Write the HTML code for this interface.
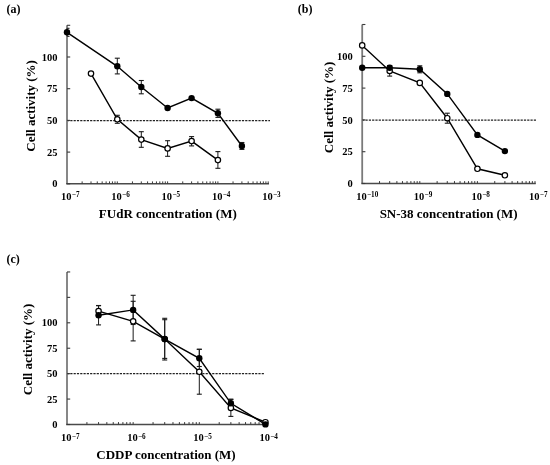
<!DOCTYPE html>
<html><head><meta charset="utf-8"><style>
html,body{margin:0;padding:0;background:#fff;}
svg{display:block;}
</style></head><body>
<svg width="550" height="465" viewBox="0 0 550 465">
<rect width="550" height="465" fill="#fff"/>
<text x="6.5" y="12.8" style="font-family:'Liberation Serif',serif;font-weight:bold;font-size:12px">(a)</text>
<line x1="67" y1="120.60" x2="270" y2="120.60" stroke="#222" stroke-width="1.3" stroke-dasharray="2.2 1.1"/>
<line x1="67" y1="25.30" x2="67" y2="183.80" stroke="#7a7a7a" stroke-width="1.8"/>
<line x1="66.1" y1="183.80" x2="269.00" y2="183.80" stroke="#4a4a4a" stroke-width="1.6"/>
<line x1="67" y1="183.80" x2="70.2" y2="183.80" stroke="#3a3a3a" stroke-width="1.1"/>
<line x1="67" y1="152.10" x2="70.2" y2="152.10" stroke="#3a3a3a" stroke-width="1.1"/>
<line x1="67" y1="120.40" x2="70.2" y2="120.40" stroke="#3a3a3a" stroke-width="1.1"/>
<line x1="67" y1="88.70" x2="70.2" y2="88.70" stroke="#3a3a3a" stroke-width="1.1"/>
<line x1="67" y1="57.00" x2="70.2" y2="57.00" stroke="#3a3a3a" stroke-width="1.1"/>
<line x1="67" y1="25.30" x2="70.2" y2="25.30" stroke="#3a3a3a" stroke-width="1.1"/>
<text x="57.5" y="187.40" text-anchor="end" style="font-family:'Liberation Serif',serif;font-weight:bold;font-size:10.5px">0</text>
<text x="57.5" y="155.70" text-anchor="end" style="font-family:'Liberation Serif',serif;font-weight:bold;font-size:10.5px">25</text>
<text x="57.5" y="124.00" text-anchor="end" style="font-family:'Liberation Serif',serif;font-weight:bold;font-size:10.5px">50</text>
<text x="57.5" y="92.30" text-anchor="end" style="font-family:'Liberation Serif',serif;font-weight:bold;font-size:10.5px">75</text>
<text x="57.5" y="60.60" text-anchor="end" style="font-family:'Liberation Serif',serif;font-weight:bold;font-size:10.5px">100</text>
<line x1="82.14" y1="183.80" x2="82.14" y2="181.40" stroke="#3a3a3a" stroke-width="1"/>
<line x1="91.00" y1="183.80" x2="91.00" y2="181.40" stroke="#3a3a3a" stroke-width="1"/>
<line x1="97.28" y1="183.80" x2="97.28" y2="181.40" stroke="#3a3a3a" stroke-width="1"/>
<line x1="102.16" y1="183.80" x2="102.16" y2="181.40" stroke="#3a3a3a" stroke-width="1"/>
<line x1="106.14" y1="183.80" x2="106.14" y2="181.40" stroke="#3a3a3a" stroke-width="1"/>
<line x1="109.51" y1="183.80" x2="109.51" y2="181.40" stroke="#3a3a3a" stroke-width="1"/>
<line x1="112.43" y1="183.80" x2="112.43" y2="181.40" stroke="#3a3a3a" stroke-width="1"/>
<line x1="115.00" y1="183.80" x2="115.00" y2="181.40" stroke="#3a3a3a" stroke-width="1"/>
<line x1="117.30" y1="183.80" x2="117.30" y2="181.40" stroke="#3a3a3a" stroke-width="1"/>
<line x1="132.44" y1="183.80" x2="132.44" y2="181.40" stroke="#3a3a3a" stroke-width="1"/>
<line x1="141.30" y1="183.80" x2="141.30" y2="181.40" stroke="#3a3a3a" stroke-width="1"/>
<line x1="147.58" y1="183.80" x2="147.58" y2="181.40" stroke="#3a3a3a" stroke-width="1"/>
<line x1="152.46" y1="183.80" x2="152.46" y2="181.40" stroke="#3a3a3a" stroke-width="1"/>
<line x1="156.44" y1="183.80" x2="156.44" y2="181.40" stroke="#3a3a3a" stroke-width="1"/>
<line x1="159.81" y1="183.80" x2="159.81" y2="181.40" stroke="#3a3a3a" stroke-width="1"/>
<line x1="162.73" y1="183.80" x2="162.73" y2="181.40" stroke="#3a3a3a" stroke-width="1"/>
<line x1="165.30" y1="183.80" x2="165.30" y2="181.40" stroke="#3a3a3a" stroke-width="1"/>
<line x1="167.60" y1="183.80" x2="167.60" y2="181.40" stroke="#3a3a3a" stroke-width="1"/>
<line x1="182.74" y1="183.80" x2="182.74" y2="181.40" stroke="#3a3a3a" stroke-width="1"/>
<line x1="191.60" y1="183.80" x2="191.60" y2="181.40" stroke="#3a3a3a" stroke-width="1"/>
<line x1="197.88" y1="183.80" x2="197.88" y2="181.40" stroke="#3a3a3a" stroke-width="1"/>
<line x1="202.76" y1="183.80" x2="202.76" y2="181.40" stroke="#3a3a3a" stroke-width="1"/>
<line x1="206.74" y1="183.80" x2="206.74" y2="181.40" stroke="#3a3a3a" stroke-width="1"/>
<line x1="210.11" y1="183.80" x2="210.11" y2="181.40" stroke="#3a3a3a" stroke-width="1"/>
<line x1="213.03" y1="183.80" x2="213.03" y2="181.40" stroke="#3a3a3a" stroke-width="1"/>
<line x1="215.60" y1="183.80" x2="215.60" y2="181.40" stroke="#3a3a3a" stroke-width="1"/>
<line x1="217.90" y1="183.80" x2="217.90" y2="181.40" stroke="#3a3a3a" stroke-width="1"/>
<line x1="233.04" y1="183.80" x2="233.04" y2="181.40" stroke="#3a3a3a" stroke-width="1"/>
<line x1="241.90" y1="183.80" x2="241.90" y2="181.40" stroke="#3a3a3a" stroke-width="1"/>
<line x1="248.18" y1="183.80" x2="248.18" y2="181.40" stroke="#3a3a3a" stroke-width="1"/>
<line x1="253.06" y1="183.80" x2="253.06" y2="181.40" stroke="#3a3a3a" stroke-width="1"/>
<line x1="257.04" y1="183.80" x2="257.04" y2="181.40" stroke="#3a3a3a" stroke-width="1"/>
<line x1="260.41" y1="183.80" x2="260.41" y2="181.40" stroke="#3a3a3a" stroke-width="1"/>
<line x1="263.33" y1="183.80" x2="263.33" y2="181.40" stroke="#3a3a3a" stroke-width="1"/>
<line x1="265.90" y1="183.80" x2="265.90" y2="181.40" stroke="#3a3a3a" stroke-width="1"/>
<line x1="268.20" y1="183.80" x2="268.20" y2="181.40" stroke="#3a3a3a" stroke-width="1"/>
<text x="61.00" y="199.6" style="font-family:'Liberation Serif',serif;font-weight:bold;font-size:10.5px">10<tspan dx="0.3" dy="-2.8" style="font-size:7.2px">−7</tspan></text>
<text x="111.30" y="199.6" style="font-family:'Liberation Serif',serif;font-weight:bold;font-size:10.5px">10<tspan dx="0.3" dy="-2.8" style="font-size:7.2px">−6</tspan></text>
<text x="161.60" y="199.6" style="font-family:'Liberation Serif',serif;font-weight:bold;font-size:10.5px">10<tspan dx="0.3" dy="-2.8" style="font-size:7.2px">−5</tspan></text>
<text x="211.90" y="199.6" style="font-family:'Liberation Serif',serif;font-weight:bold;font-size:10.5px">10<tspan dx="0.3" dy="-2.8" style="font-size:7.2px">−4</tspan></text>
<text x="262.20" y="199.6" style="font-family:'Liberation Serif',serif;font-weight:bold;font-size:10.5px">10<tspan dx="0.3" dy="-2.8" style="font-size:7.2px">−3</tspan></text>
<text x="167.8" y="217.8" text-anchor="middle" style="font-family:'Liberation Serif',serif;font-weight:bold;font-size:13px">FUdR concentration (M)</text>
<text transform="translate(35.2,105.9) rotate(-90)" text-anchor="middle" style="font-family:'Liberation Serif',serif;font-weight:bold;font-size:13px">Cell activity (%)</text>
<line x1="117.30" y1="115.30" x2="117.30" y2="123.30" stroke="#1a1a1a" stroke-width="1"/>
<line x1="114.80" y1="115.30" x2="119.80" y2="115.30" stroke="#1a1a1a" stroke-width="1.1"/>
<line x1="114.80" y1="123.30" x2="119.80" y2="123.30" stroke="#1a1a1a" stroke-width="1.1"/>
<line x1="141.30" y1="131.70" x2="141.30" y2="147.30" stroke="#1a1a1a" stroke-width="1"/>
<line x1="138.80" y1="131.70" x2="143.80" y2="131.70" stroke="#1a1a1a" stroke-width="1.1"/>
<line x1="138.80" y1="147.30" x2="143.80" y2="147.30" stroke="#1a1a1a" stroke-width="1.1"/>
<line x1="167.60" y1="140.70" x2="167.60" y2="156.30" stroke="#1a1a1a" stroke-width="1"/>
<line x1="165.10" y1="140.70" x2="170.10" y2="140.70" stroke="#1a1a1a" stroke-width="1.1"/>
<line x1="165.10" y1="156.30" x2="170.10" y2="156.30" stroke="#1a1a1a" stroke-width="1.1"/>
<line x1="191.60" y1="136.60" x2="191.60" y2="145.90" stroke="#1a1a1a" stroke-width="1"/>
<line x1="189.10" y1="136.60" x2="194.10" y2="136.60" stroke="#1a1a1a" stroke-width="1.1"/>
<line x1="189.10" y1="145.90" x2="194.10" y2="145.90" stroke="#1a1a1a" stroke-width="1.1"/>
<line x1="217.90" y1="151.60" x2="217.90" y2="168.30" stroke="#1a1a1a" stroke-width="1"/>
<line x1="215.40" y1="151.60" x2="220.40" y2="151.60" stroke="#1a1a1a" stroke-width="1.1"/>
<line x1="215.40" y1="168.30" x2="220.40" y2="168.30" stroke="#1a1a1a" stroke-width="1.1"/>
<line x1="67.00" y1="28.30" x2="67.00" y2="36.30" stroke="#1a1a1a" stroke-width="1"/>
<line x1="67.20" y1="28.30" x2="69.50" y2="28.30" stroke="#1a1a1a" stroke-width="1.1"/>
<line x1="67.20" y1="36.30" x2="69.50" y2="36.30" stroke="#1a1a1a" stroke-width="1.1"/>
<line x1="117.30" y1="58.20" x2="117.30" y2="73.90" stroke="#1a1a1a" stroke-width="1"/>
<line x1="114.80" y1="58.20" x2="119.80" y2="58.20" stroke="#1a1a1a" stroke-width="1.1"/>
<line x1="114.80" y1="73.90" x2="119.80" y2="73.90" stroke="#1a1a1a" stroke-width="1.1"/>
<line x1="141.30" y1="80.50" x2="141.30" y2="93.80" stroke="#1a1a1a" stroke-width="1"/>
<line x1="138.80" y1="80.50" x2="143.80" y2="80.50" stroke="#1a1a1a" stroke-width="1.1"/>
<line x1="138.80" y1="93.80" x2="143.80" y2="93.80" stroke="#1a1a1a" stroke-width="1.1"/>
<line x1="217.90" y1="109.20" x2="217.90" y2="117.40" stroke="#1a1a1a" stroke-width="1"/>
<line x1="215.40" y1="109.20" x2="220.40" y2="109.20" stroke="#1a1a1a" stroke-width="1.1"/>
<line x1="215.40" y1="117.40" x2="220.40" y2="117.40" stroke="#1a1a1a" stroke-width="1.1"/>
<line x1="241.90" y1="142.50" x2="241.90" y2="149.40" stroke="#1a1a1a" stroke-width="1"/>
<line x1="239.40" y1="142.50" x2="244.40" y2="142.50" stroke="#1a1a1a" stroke-width="1.1"/>
<line x1="239.40" y1="149.40" x2="244.40" y2="149.40" stroke="#1a1a1a" stroke-width="1.1"/>
<polyline points="91.00,73.60 117.30,119.30 141.30,139.60 167.60,148.40 191.60,141.10 217.90,160.10" fill="none" stroke="#000" stroke-width="1.4"/>
<polyline points="67.00,32.30 117.30,66.30 141.30,87.00 167.60,108.00 191.60,98.10 217.90,113.30 241.90,146.00" fill="none" stroke="#000" stroke-width="1.4"/>
<circle cx="91.00" cy="73.60" r="2.7" fill="#fff" stroke="#000" stroke-width="1.2"/>
<circle cx="117.30" cy="119.30" r="2.7" fill="#fff" stroke="#000" stroke-width="1.2"/>
<circle cx="141.30" cy="139.60" r="2.7" fill="#fff" stroke="#000" stroke-width="1.2"/>
<circle cx="167.60" cy="148.40" r="2.7" fill="#fff" stroke="#000" stroke-width="1.2"/>
<circle cx="191.60" cy="141.10" r="2.7" fill="#fff" stroke="#000" stroke-width="1.2"/>
<circle cx="217.90" cy="160.10" r="2.7" fill="#fff" stroke="#000" stroke-width="1.2"/>
<circle cx="67.00" cy="32.30" r="3.2" fill="#000"/>
<circle cx="117.30" cy="66.30" r="3.2" fill="#000"/>
<circle cx="141.30" cy="87.00" r="3.2" fill="#000"/>
<circle cx="167.60" cy="108.00" r="3.2" fill="#000"/>
<circle cx="191.60" cy="98.10" r="3.2" fill="#000"/>
<circle cx="217.90" cy="113.30" r="3.2" fill="#000"/>
<circle cx="241.90" cy="146.00" r="3.2" fill="#000"/>
<text x="297.8" y="12.6" style="font-family:'Liberation Serif',serif;font-weight:bold;font-size:12px">(b)</text>
<line x1="362.2" y1="120.10" x2="537" y2="120.10" stroke="#222" stroke-width="1.3" stroke-dasharray="2.2 1.1"/>
<line x1="362.2" y1="24.50" x2="362.2" y2="183.50" stroke="#7a7a7a" stroke-width="1.8"/>
<line x1="361.3" y1="183.50" x2="535.80" y2="183.50" stroke="#4a4a4a" stroke-width="1.6"/>
<line x1="362.2" y1="183.50" x2="365.4" y2="183.50" stroke="#3a3a3a" stroke-width="1.1"/>
<line x1="362.2" y1="151.70" x2="365.4" y2="151.70" stroke="#3a3a3a" stroke-width="1.1"/>
<line x1="362.2" y1="119.90" x2="365.4" y2="119.90" stroke="#3a3a3a" stroke-width="1.1"/>
<line x1="362.2" y1="88.10" x2="365.4" y2="88.10" stroke="#3a3a3a" stroke-width="1.1"/>
<line x1="362.2" y1="56.30" x2="365.4" y2="56.30" stroke="#3a3a3a" stroke-width="1.1"/>
<line x1="362.2" y1="24.50" x2="365.4" y2="24.50" stroke="#3a3a3a" stroke-width="1.1"/>
<text x="352.7" y="187.10" text-anchor="end" style="font-family:'Liberation Serif',serif;font-weight:bold;font-size:10.5px">0</text>
<text x="352.7" y="155.30" text-anchor="end" style="font-family:'Liberation Serif',serif;font-weight:bold;font-size:10.5px">25</text>
<text x="352.7" y="123.50" text-anchor="end" style="font-family:'Liberation Serif',serif;font-weight:bold;font-size:10.5px">50</text>
<text x="352.7" y="91.70" text-anchor="end" style="font-family:'Liberation Serif',serif;font-weight:bold;font-size:10.5px">75</text>
<text x="352.7" y="59.90" text-anchor="end" style="font-family:'Liberation Serif',serif;font-weight:bold;font-size:10.5px">100</text>
<line x1="379.54" y1="183.50" x2="379.54" y2="181.10" stroke="#3a3a3a" stroke-width="1"/>
<line x1="389.68" y1="183.50" x2="389.68" y2="181.10" stroke="#3a3a3a" stroke-width="1"/>
<line x1="396.88" y1="183.50" x2="396.88" y2="181.10" stroke="#3a3a3a" stroke-width="1"/>
<line x1="402.46" y1="183.50" x2="402.46" y2="181.10" stroke="#3a3a3a" stroke-width="1"/>
<line x1="407.02" y1="183.50" x2="407.02" y2="181.10" stroke="#3a3a3a" stroke-width="1"/>
<line x1="410.88" y1="183.50" x2="410.88" y2="181.10" stroke="#3a3a3a" stroke-width="1"/>
<line x1="414.22" y1="183.50" x2="414.22" y2="181.10" stroke="#3a3a3a" stroke-width="1"/>
<line x1="417.16" y1="183.50" x2="417.16" y2="181.10" stroke="#3a3a3a" stroke-width="1"/>
<line x1="419.80" y1="183.50" x2="419.80" y2="181.10" stroke="#3a3a3a" stroke-width="1"/>
<line x1="437.14" y1="183.50" x2="437.14" y2="181.10" stroke="#3a3a3a" stroke-width="1"/>
<line x1="447.28" y1="183.50" x2="447.28" y2="181.10" stroke="#3a3a3a" stroke-width="1"/>
<line x1="454.48" y1="183.50" x2="454.48" y2="181.10" stroke="#3a3a3a" stroke-width="1"/>
<line x1="460.06" y1="183.50" x2="460.06" y2="181.10" stroke="#3a3a3a" stroke-width="1"/>
<line x1="464.62" y1="183.50" x2="464.62" y2="181.10" stroke="#3a3a3a" stroke-width="1"/>
<line x1="468.48" y1="183.50" x2="468.48" y2="181.10" stroke="#3a3a3a" stroke-width="1"/>
<line x1="471.82" y1="183.50" x2="471.82" y2="181.10" stroke="#3a3a3a" stroke-width="1"/>
<line x1="474.76" y1="183.50" x2="474.76" y2="181.10" stroke="#3a3a3a" stroke-width="1"/>
<line x1="477.40" y1="183.50" x2="477.40" y2="181.10" stroke="#3a3a3a" stroke-width="1"/>
<line x1="494.74" y1="183.50" x2="494.74" y2="181.10" stroke="#3a3a3a" stroke-width="1"/>
<line x1="504.88" y1="183.50" x2="504.88" y2="181.10" stroke="#3a3a3a" stroke-width="1"/>
<line x1="512.08" y1="183.50" x2="512.08" y2="181.10" stroke="#3a3a3a" stroke-width="1"/>
<line x1="517.66" y1="183.50" x2="517.66" y2="181.10" stroke="#3a3a3a" stroke-width="1"/>
<line x1="522.22" y1="183.50" x2="522.22" y2="181.10" stroke="#3a3a3a" stroke-width="1"/>
<line x1="526.08" y1="183.50" x2="526.08" y2="181.10" stroke="#3a3a3a" stroke-width="1"/>
<line x1="529.42" y1="183.50" x2="529.42" y2="181.10" stroke="#3a3a3a" stroke-width="1"/>
<line x1="532.36" y1="183.50" x2="532.36" y2="181.10" stroke="#3a3a3a" stroke-width="1"/>
<line x1="535.00" y1="183.50" x2="535.00" y2="181.10" stroke="#3a3a3a" stroke-width="1"/>
<text x="356.20" y="199.6" style="font-family:'Liberation Serif',serif;font-weight:bold;font-size:10.5px">10<tspan dx="0.3" dy="-2.8" style="font-size:7.2px">−10</tspan></text>
<text x="413.80" y="199.6" style="font-family:'Liberation Serif',serif;font-weight:bold;font-size:10.5px">10<tspan dx="0.3" dy="-2.8" style="font-size:7.2px">−9</tspan></text>
<text x="471.40" y="199.6" style="font-family:'Liberation Serif',serif;font-weight:bold;font-size:10.5px">10<tspan dx="0.3" dy="-2.8" style="font-size:7.2px">−8</tspan></text>
<text x="529.00" y="199.6" style="font-family:'Liberation Serif',serif;font-weight:bold;font-size:10.5px">10<tspan dx="0.3" dy="-2.8" style="font-size:7.2px">−7</tspan></text>
<text x="448.6" y="217.9" text-anchor="middle" style="font-family:'Liberation Serif',serif;font-weight:bold;font-size:13px">SN-38 concentration (M)</text>
<text transform="translate(332.8,107.4) rotate(-90)" text-anchor="middle" style="font-family:'Liberation Serif',serif;font-weight:bold;font-size:13px">Cell activity (%)</text>
<line x1="389.68" y1="65.90" x2="389.68" y2="76.10" stroke="#1a1a1a" stroke-width="1"/>
<line x1="387.18" y1="65.90" x2="392.18" y2="65.90" stroke="#1a1a1a" stroke-width="1.1"/>
<line x1="387.18" y1="76.10" x2="392.18" y2="76.10" stroke="#1a1a1a" stroke-width="1.1"/>
<line x1="447.28" y1="113.20" x2="447.28" y2="123.20" stroke="#1a1a1a" stroke-width="1"/>
<line x1="444.78" y1="113.20" x2="449.78" y2="113.20" stroke="#1a1a1a" stroke-width="1.1"/>
<line x1="444.78" y1="123.20" x2="449.78" y2="123.20" stroke="#1a1a1a" stroke-width="1.1"/>
<line x1="389.68" y1="65.50" x2="389.68" y2="70.00" stroke="#1a1a1a" stroke-width="1"/>
<line x1="387.18" y1="65.50" x2="392.18" y2="65.50" stroke="#1a1a1a" stroke-width="1.1"/>
<line x1="387.18" y1="70.00" x2="392.18" y2="70.00" stroke="#1a1a1a" stroke-width="1.1"/>
<line x1="419.80" y1="65.80" x2="419.80" y2="72.80" stroke="#1a1a1a" stroke-width="1"/>
<line x1="417.30" y1="65.80" x2="422.30" y2="65.80" stroke="#1a1a1a" stroke-width="1.1"/>
<line x1="417.30" y1="72.80" x2="422.30" y2="72.80" stroke="#1a1a1a" stroke-width="1.1"/>
<polyline points="362.20,45.40 389.68,71.00 419.80,82.90 447.28,118.20 477.40,168.80 504.88,175.30" fill="none" stroke="#000" stroke-width="1.4"/>
<polyline points="362.20,67.70 389.68,67.70 419.80,69.30 447.28,93.90 477.40,134.90 504.88,151.10" fill="none" stroke="#000" stroke-width="1.4"/>
<circle cx="362.20" cy="45.40" r="2.7" fill="#fff" stroke="#000" stroke-width="1.2"/>
<circle cx="389.68" cy="71.00" r="2.7" fill="#fff" stroke="#000" stroke-width="1.2"/>
<circle cx="419.80" cy="82.90" r="2.7" fill="#fff" stroke="#000" stroke-width="1.2"/>
<circle cx="447.28" cy="118.20" r="2.7" fill="#fff" stroke="#000" stroke-width="1.2"/>
<circle cx="477.40" cy="168.80" r="2.7" fill="#fff" stroke="#000" stroke-width="1.2"/>
<circle cx="504.88" cy="175.30" r="2.7" fill="#fff" stroke="#000" stroke-width="1.2"/>
<circle cx="362.20" cy="67.70" r="3.2" fill="#000"/>
<circle cx="389.68" cy="67.70" r="3.2" fill="#000"/>
<circle cx="419.80" cy="69.30" r="3.2" fill="#000"/>
<circle cx="447.28" cy="93.90" r="3.2" fill="#000"/>
<circle cx="477.40" cy="134.90" r="3.2" fill="#000"/>
<circle cx="504.88" cy="151.10" r="3.2" fill="#000"/>
<text x="6.5" y="262.9" style="font-family:'Liberation Serif',serif;font-weight:bold;font-size:12px">(c)</text>
<line x1="67" y1="373.70" x2="265" y2="373.70" stroke="#222" stroke-width="1.3" stroke-dasharray="2.2 1.1"/>
<line x1="67" y1="271.95" x2="67" y2="424.50" stroke="#7a7a7a" stroke-width="1.8"/>
<line x1="66.1" y1="424.50" x2="266.25" y2="424.50" stroke="#4a4a4a" stroke-width="1.6"/>
<line x1="67" y1="424.50" x2="70.2" y2="424.50" stroke="#3a3a3a" stroke-width="1.1"/>
<line x1="67" y1="399.07" x2="70.2" y2="399.07" stroke="#3a3a3a" stroke-width="1.1"/>
<line x1="67" y1="373.65" x2="70.2" y2="373.65" stroke="#3a3a3a" stroke-width="1.1"/>
<line x1="67" y1="348.23" x2="70.2" y2="348.23" stroke="#3a3a3a" stroke-width="1.1"/>
<line x1="67" y1="322.80" x2="70.2" y2="322.80" stroke="#3a3a3a" stroke-width="1.1"/>
<line x1="67" y1="297.38" x2="70.2" y2="297.38" stroke="#3a3a3a" stroke-width="1.1"/>
<line x1="67" y1="271.95" x2="70.2" y2="271.95" stroke="#3a3a3a" stroke-width="1.1"/>
<text x="57.5" y="428.10" text-anchor="end" style="font-family:'Liberation Serif',serif;font-weight:bold;font-size:10.5px">0</text>
<text x="57.5" y="402.68" text-anchor="end" style="font-family:'Liberation Serif',serif;font-weight:bold;font-size:10.5px">25</text>
<text x="57.5" y="377.25" text-anchor="end" style="font-family:'Liberation Serif',serif;font-weight:bold;font-size:10.5px">50</text>
<text x="57.5" y="351.83" text-anchor="end" style="font-family:'Liberation Serif',serif;font-weight:bold;font-size:10.5px">75</text>
<text x="57.5" y="326.40" text-anchor="end" style="font-family:'Liberation Serif',serif;font-weight:bold;font-size:10.5px">100</text>
<line x1="86.91" y1="424.50" x2="86.91" y2="422.10" stroke="#3a3a3a" stroke-width="1"/>
<line x1="98.56" y1="424.50" x2="98.56" y2="422.10" stroke="#3a3a3a" stroke-width="1"/>
<line x1="106.83" y1="424.50" x2="106.83" y2="422.10" stroke="#3a3a3a" stroke-width="1"/>
<line x1="113.24" y1="424.50" x2="113.24" y2="422.10" stroke="#3a3a3a" stroke-width="1"/>
<line x1="118.47" y1="424.50" x2="118.47" y2="422.10" stroke="#3a3a3a" stroke-width="1"/>
<line x1="122.90" y1="424.50" x2="122.90" y2="422.10" stroke="#3a3a3a" stroke-width="1"/>
<line x1="126.74" y1="424.50" x2="126.74" y2="422.10" stroke="#3a3a3a" stroke-width="1"/>
<line x1="130.12" y1="424.50" x2="130.12" y2="422.10" stroke="#3a3a3a" stroke-width="1"/>
<line x1="133.15" y1="424.50" x2="133.15" y2="422.10" stroke="#3a3a3a" stroke-width="1"/>
<line x1="153.06" y1="424.50" x2="153.06" y2="422.10" stroke="#3a3a3a" stroke-width="1"/>
<line x1="164.71" y1="424.50" x2="164.71" y2="422.10" stroke="#3a3a3a" stroke-width="1"/>
<line x1="172.98" y1="424.50" x2="172.98" y2="422.10" stroke="#3a3a3a" stroke-width="1"/>
<line x1="179.39" y1="424.50" x2="179.39" y2="422.10" stroke="#3a3a3a" stroke-width="1"/>
<line x1="184.62" y1="424.50" x2="184.62" y2="422.10" stroke="#3a3a3a" stroke-width="1"/>
<line x1="189.05" y1="424.50" x2="189.05" y2="422.10" stroke="#3a3a3a" stroke-width="1"/>
<line x1="192.89" y1="424.50" x2="192.89" y2="422.10" stroke="#3a3a3a" stroke-width="1"/>
<line x1="196.27" y1="424.50" x2="196.27" y2="422.10" stroke="#3a3a3a" stroke-width="1"/>
<line x1="199.30" y1="424.50" x2="199.30" y2="422.10" stroke="#3a3a3a" stroke-width="1"/>
<line x1="219.21" y1="424.50" x2="219.21" y2="422.10" stroke="#3a3a3a" stroke-width="1"/>
<line x1="230.86" y1="424.50" x2="230.86" y2="422.10" stroke="#3a3a3a" stroke-width="1"/>
<line x1="239.13" y1="424.50" x2="239.13" y2="422.10" stroke="#3a3a3a" stroke-width="1"/>
<line x1="245.54" y1="424.50" x2="245.54" y2="422.10" stroke="#3a3a3a" stroke-width="1"/>
<line x1="250.77" y1="424.50" x2="250.77" y2="422.10" stroke="#3a3a3a" stroke-width="1"/>
<line x1="255.20" y1="424.50" x2="255.20" y2="422.10" stroke="#3a3a3a" stroke-width="1"/>
<line x1="259.04" y1="424.50" x2="259.04" y2="422.10" stroke="#3a3a3a" stroke-width="1"/>
<line x1="262.42" y1="424.50" x2="262.42" y2="422.10" stroke="#3a3a3a" stroke-width="1"/>
<line x1="265.45" y1="424.50" x2="265.45" y2="422.10" stroke="#3a3a3a" stroke-width="1"/>
<text x="61.00" y="441.3" style="font-family:'Liberation Serif',serif;font-weight:bold;font-size:10.5px">10<tspan dx="0.3" dy="-2.8" style="font-size:7.2px">−7</tspan></text>
<text x="127.15" y="441.3" style="font-family:'Liberation Serif',serif;font-weight:bold;font-size:10.5px">10<tspan dx="0.3" dy="-2.8" style="font-size:7.2px">−6</tspan></text>
<text x="193.30" y="441.3" style="font-family:'Liberation Serif',serif;font-weight:bold;font-size:10.5px">10<tspan dx="0.3" dy="-2.8" style="font-size:7.2px">−5</tspan></text>
<text x="259.45" y="441.3" style="font-family:'Liberation Serif',serif;font-weight:bold;font-size:10.5px">10<tspan dx="0.3" dy="-2.8" style="font-size:7.2px">−4</tspan></text>
<text x="166" y="458.6" text-anchor="middle" style="font-family:'Liberation Serif',serif;font-weight:bold;font-size:13px">CDDP concentration (M)</text>
<text transform="translate(31.8,349.4) rotate(-90)" text-anchor="middle" style="font-family:'Liberation Serif',serif;font-weight:bold;font-size:13px">Cell activity (%)</text>
<line x1="98.56" y1="305.70" x2="98.56" y2="316.50" stroke="#1a1a1a" stroke-width="1"/>
<line x1="96.06" y1="305.70" x2="101.06" y2="305.70" stroke="#1a1a1a" stroke-width="1.1"/>
<line x1="96.06" y1="316.50" x2="101.06" y2="316.50" stroke="#1a1a1a" stroke-width="1.1"/>
<line x1="133.15" y1="301.30" x2="133.15" y2="340.90" stroke="#1a1a1a" stroke-width="1"/>
<line x1="130.65" y1="301.30" x2="135.65" y2="301.30" stroke="#1a1a1a" stroke-width="1.1"/>
<line x1="130.65" y1="340.90" x2="135.65" y2="340.90" stroke="#1a1a1a" stroke-width="1.1"/>
<line x1="164.71" y1="319.70" x2="164.71" y2="358.40" stroke="#1a1a1a" stroke-width="1"/>
<line x1="162.21" y1="319.70" x2="167.21" y2="319.70" stroke="#1a1a1a" stroke-width="1.1"/>
<line x1="162.21" y1="358.40" x2="167.21" y2="358.40" stroke="#1a1a1a" stroke-width="1.1"/>
<line x1="199.30" y1="349.30" x2="199.30" y2="394.20" stroke="#1a1a1a" stroke-width="1"/>
<line x1="196.80" y1="349.30" x2="201.80" y2="349.30" stroke="#1a1a1a" stroke-width="1.1"/>
<line x1="196.80" y1="394.20" x2="201.80" y2="394.20" stroke="#1a1a1a" stroke-width="1.1"/>
<line x1="230.86" y1="399.40" x2="230.86" y2="416.40" stroke="#1a1a1a" stroke-width="1"/>
<line x1="228.36" y1="399.40" x2="233.36" y2="399.40" stroke="#1a1a1a" stroke-width="1.1"/>
<line x1="228.36" y1="416.40" x2="233.36" y2="416.40" stroke="#1a1a1a" stroke-width="1.1"/>
<line x1="98.56" y1="305.50" x2="98.56" y2="324.90" stroke="#1a1a1a" stroke-width="1"/>
<line x1="96.06" y1="305.50" x2="101.06" y2="305.50" stroke="#1a1a1a" stroke-width="1.1"/>
<line x1="96.06" y1="324.90" x2="101.06" y2="324.90" stroke="#1a1a1a" stroke-width="1.1"/>
<line x1="133.15" y1="295.30" x2="133.15" y2="324.50" stroke="#1a1a1a" stroke-width="1"/>
<line x1="130.65" y1="295.30" x2="135.65" y2="295.30" stroke="#1a1a1a" stroke-width="1.1"/>
<line x1="130.65" y1="324.50" x2="135.65" y2="324.50" stroke="#1a1a1a" stroke-width="1.1"/>
<line x1="164.71" y1="318.30" x2="164.71" y2="360.00" stroke="#1a1a1a" stroke-width="1"/>
<line x1="162.21" y1="318.30" x2="167.21" y2="318.30" stroke="#1a1a1a" stroke-width="1.1"/>
<line x1="162.21" y1="360.00" x2="167.21" y2="360.00" stroke="#1a1a1a" stroke-width="1.1"/>
<line x1="199.30" y1="349.30" x2="199.30" y2="366.50" stroke="#1a1a1a" stroke-width="1"/>
<line x1="196.80" y1="349.30" x2="201.80" y2="349.30" stroke="#1a1a1a" stroke-width="1.1"/>
<line x1="196.80" y1="366.50" x2="201.80" y2="366.50" stroke="#1a1a1a" stroke-width="1.1"/>
<line x1="230.86" y1="399.20" x2="230.86" y2="407.40" stroke="#1a1a1a" stroke-width="1"/>
<line x1="228.36" y1="399.20" x2="233.36" y2="399.20" stroke="#1a1a1a" stroke-width="1.1"/>
<line x1="228.36" y1="407.40" x2="233.36" y2="407.40" stroke="#1a1a1a" stroke-width="1.1"/>
<polyline points="98.56,311.10 133.15,321.30 164.71,339.10 199.30,371.80 230.86,407.90 265.45,422.20" fill="none" stroke="#000" stroke-width="1.4"/>
<polyline points="98.56,315.20 133.15,309.90 164.71,339.10 199.30,358.30 230.86,403.30 265.45,424.40" fill="none" stroke="#000" stroke-width="1.4"/>
<circle cx="98.56" cy="311.10" r="2.7" fill="#fff" stroke="#000" stroke-width="1.2"/>
<circle cx="133.15" cy="321.30" r="2.7" fill="#fff" stroke="#000" stroke-width="1.2"/>
<circle cx="164.71" cy="339.10" r="2.7" fill="#fff" stroke="#000" stroke-width="1.2"/>
<circle cx="199.30" cy="371.80" r="2.7" fill="#fff" stroke="#000" stroke-width="1.2"/>
<circle cx="230.86" cy="407.90" r="2.7" fill="#fff" stroke="#000" stroke-width="1.2"/>
<circle cx="265.45" cy="422.20" r="2.7" fill="#fff" stroke="#000" stroke-width="1.2"/>
<circle cx="98.56" cy="315.20" r="3.2" fill="#000"/>
<circle cx="133.15" cy="309.90" r="3.2" fill="#000"/>
<circle cx="164.71" cy="339.10" r="3.2" fill="#000"/>
<circle cx="199.30" cy="358.30" r="3.2" fill="#000"/>
<circle cx="230.86" cy="403.30" r="3.2" fill="#000"/>
<circle cx="265.45" cy="424.40" r="3.2" fill="#000"/>
</svg>
</body></html>
